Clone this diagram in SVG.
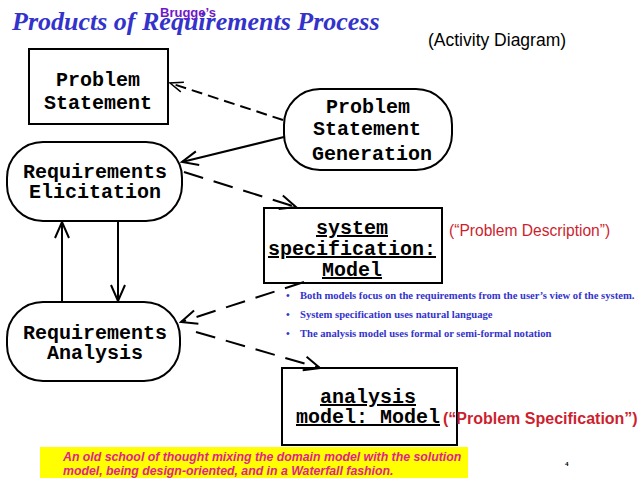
<svg xmlns="http://www.w3.org/2000/svg" width="638" height="478" viewBox="0 0 638 478">
<style>
.node{fill:#fff;stroke:#000;stroke-width:2}
.mono{font-family:"Liberation Mono","Courier New",monospace;font-weight:bold;font-size:20px;fill:#000;text-anchor:middle}
.u{text-decoration:underline}
.conn{fill:none;stroke:#000;stroke-width:2}
.dash{stroke-dasharray:20 11}
.bul{font-family:"Liberation Serif","Times New Roman",serif;font-weight:bold;font-size:10.6px;fill:#3333cc}
</style>
<defs>
<marker id="open" viewBox="0 0 20 20" refX="18" refY="10" markerWidth="20" markerHeight="20" markerUnits="userSpaceOnUse" orient="auto">
<path d="M2,3 L18,10 L2,17" fill="none" stroke="#000" stroke-width="2"/>
</marker>
<marker id="openS" viewBox="0 0 16 16" refX="15" refY="8" markerWidth="16" markerHeight="16" markerUnits="userSpaceOnUse" orient="auto">
<path d="M2,3 L15,8 L2,13" fill="none" stroke="#000" stroke-width="1.5"/>
</marker>
</defs>
<rect width="638" height="478" fill="#fff"/>
<text x="12" y="30" font-family="Liberation Serif,serif" font-weight="bold" font-style="italic" font-size="26" fill="#3333cc">Products of Requirements Process</text>
<text x="160" y="17" font-family="Liberation Sans,Arial,sans-serif" font-weight="bold" font-size="13" fill="#7018c8">Brugge’s</text>
<text x="428" y="46" font-family="Liberation Sans,Arial,sans-serif" font-size="17.5" fill="#000">(Activity Diagram)</text>

<g id="problem-statement">
<rect class="node" x="29" y="49" width="139" height="75"/>
<text class="mono" x="98" y="86">Problem</text>
<text class="mono" x="98" y="109">Statement</text>
</g>
<g id="problem-statement-generation">
<rect class="node" x="284" y="89" width="168" height="81" rx="36" ry="36"/>
<text class="mono" x="368" y="113">Problem</text>
<text class="mono" x="367" y="135">Statement</text>
<text class="mono" x="372" y="160">Generation</text>
</g>
<g id="requirements-elicitation">
<rect class="node" x="7" y="142" width="175" height="79" rx="36" ry="36"/>
<text class="mono" x="95" y="178">Requirements</text>
<text class="mono" x="95" y="198">Elicitation</text>
</g>
<g id="requirements-analysis">
<rect class="node" x="7" y="302" width="173" height="79" rx="36" ry="36"/>
<text class="mono" x="95" y="339">Requirements</text>
<text class="mono" x="95" y="359">Analysis</text>
</g>
<g id="system-specification">
<rect class="node" x="264" y="208" width="178" height="75"/>
<text class="mono u" x="352" y="234">system</text>
<text class="mono u" x="352" y="255">specification:</text>
<text class="mono u" x="352" y="276">Model</text>
<text x="449" y="236" font-family="Liberation Sans,Arial,sans-serif" font-size="15.6" fill="#cc1f2f">(“Problem Description”)</text>
</g>
<g id="analysis-model">
<rect class="node" x="282" y="368" width="175" height="77"/>
<text class="mono u" x="368" y="403">analysis</text>
<text class="mono u" x="368" y="423">model: Model</text>
<text x="443" y="424" font-family="Liberation Sans,Arial,sans-serif" font-weight="bold" font-size="16" fill="#cc1f2f">(“Problem Specification”)</text>
</g>

<g id="connectors">
<line class="conn" x1="283" y1="120" x2="170" y2="83" stroke-width="1.5" stroke-dasharray="11 6" marker-end="url(#openS)"/>
<line class="conn" x1="284" y1="137" x2="182" y2="162" marker-end="url(#open)"/>
<line class="conn dash" x1="184" y1="172" x2="296" y2="207" marker-end="url(#open)"/>
<line class="conn dash" x1="304" y1="282" x2="181" y2="322" marker-end="url(#open)"/>
<line class="conn dash" x1="196" y1="332" x2="320" y2="368" marker-end="url(#open)"/>
<line class="conn" x1="62" y1="302" x2="62" y2="222" marker-end="url(#open)"/>
<line class="conn" x1="118" y1="221" x2="118" y2="301" marker-end="url(#open)"/>
</g>

<g id="notes">
<text class="bul" x="286" y="299">•</text>
<text class="bul" x="300" y="299">Both models focus on the requirements from the user’s view of the system.</text>
<text class="bul" x="286" y="318">•</text>
<text class="bul" x="300" y="318">System specification uses natural language</text>
<text class="bul" x="286" y="337">•</text>
<text class="bul" x="300" y="337">The analysis model uses formal or semi-formal notation</text>
</g>

<rect x="40" y="447" width="428" height="31" fill="#ffff00"/>
<text font-family="Liberation Sans,Arial,sans-serif" font-weight="bold" font-style="italic" font-size="12.3" fill="#e0248c">
<tspan x="63" y="461">An old school of thought mixing the domain model with the solution</tspan>
<tspan x="63" y="475">model, being design-oriented, and in a Waterfall fashion.</tspan>
</text>
<text x="565" y="466" font-family="Liberation Serif,serif" font-weight="bold" font-size="7" fill="#000">4</text>
</svg>
